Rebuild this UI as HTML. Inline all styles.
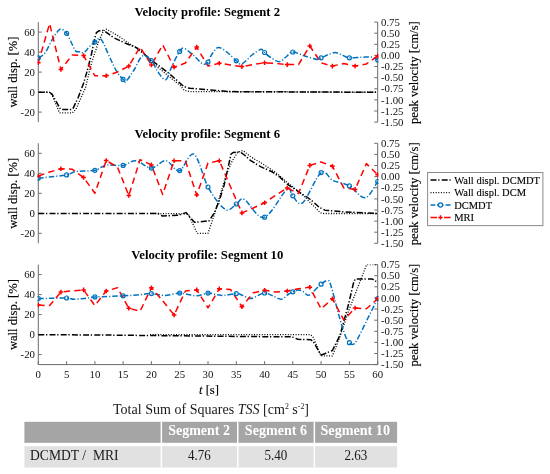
<!DOCTYPE html><html><head><meta charset="utf-8"><style>
html,body{margin:0;padding:0;background:#fff;}
body{width:550px;height:474px;overflow:hidden;position:relative;font-family:"Liberation Serif","Times New Roman",serif;}
svg{position:absolute;left:0;top:0;}
.tk{font-size:10.8px;fill:#111;}
.lab{font-size:12.6px;fill:#000;stroke:#000;stroke-width:0.15px;}
.ttl{font-size:12.7px;font-weight:bold;fill:#000;}
.lg{font-size:10.5px;fill:#000;stroke:#000;stroke-width:0.12px;}
</style></head><body>
<svg width="550" height="474" viewBox="0 0 550 474">
<text class="ttl" x="207.3" y="16.0" text-anchor="middle">Velocity profile: Segment 2</text>
<defs><clipPath id="c0"><rect x="37.5" y="22.1" width="341.0" height="100.5"/></clipPath></defs>
<g stroke="#6b6b6b" stroke-width="1" fill="none">
<path d="M38.3,22.1 V122.1"/>
<path d="M377.7,22.1 V122.1"/>
<path d="M38.3,32.099999999999994 h3.4"/>
<path d="M38.3,52.099999999999994 h3.4"/>
<path d="M38.3,72.1 h3.4"/>
<path d="M38.3,92.1 h3.4"/>
<path d="M38.3,112.1 h3.4"/>
<path d="M377.7,22.1 h-3.4"/>
<path d="M377.7,33.2 h-3.4"/>
<path d="M377.7,44.3 h-3.4"/>
<path d="M377.7,55.4 h-3.4"/>
<path d="M377.7,66.5 h-3.4"/>
<path d="M377.7,77.7 h-3.4"/>
<path d="M377.7,88.8 h-3.4"/>
<path d="M377.7,99.9 h-3.4"/>
<path d="M377.7,111 h-3.4"/>
<path d="M377.7,122.1 h-3.4"/>
</g>
<g clip-path="url(#c0)" fill="none" stroke-width="1.5" stroke-linejoin="round">
<path d="M44,92.2 L49.4,92.2 L52,95 L59.5,112.8 L72.5,112.8 L76,109 L85.5,87.7 L91.5,63 L98.5,42 L102.5,33 L104.5,30 L106.4,29.2 L118.2,35.9 L130,44.1 L140,49.5 L153.7,64 L168.5,76 L180.1,85.5 L184.3,90.4 L190,91.6 L377.7,92.2" stroke="#000" stroke-dasharray="1 1.6" stroke-width="1.3"/>
<path d="M38.3,92.2 L49.4,92.2 L52,94 L60.6,109.5 L71,109.6 L72.6,109.3 L78.3,97.2 L84,82 L87.8,68.7 L91.6,53.5 L94.5,39.3 L96.4,32.6 L99.2,30.7 L103,30.5 L105,31.4 L113.6,37.7 L125.5,43.2 L136.4,47.7 L140,50.8 L153.7,61.9 L168.5,73 L182.2,85.1 L186.4,87.7 L190,88.2 L230,91.6 L377.7,92.3" stroke="#000" stroke-dasharray="6 1.7 1.3 2.2"/>
<path d="M38.3,57.8 C39.4,57 42.7,56 45,53 C47.3,50 49.8,43.7 52,40 C54.2,36.3 56.4,32.8 58,31 C59.6,29.2 60.2,28.8 61.7,29.2 C63.2,29.6 65.2,31.2 66.9,33.7 C68.6,36.2 70.5,41.1 72,44 C73.5,46.9 74.5,49.8 75.7,51.1 C77,52.4 78.2,51.5 79.5,51.8 C80.8,52.1 82.1,53 83.3,52.7 C84.5,52.4 85.5,51.2 86.5,50.2 C87.5,49.2 87.7,48.3 89,47 C90.3,45.7 92.2,43.9 94.2,42.6 C96.2,41.3 98.4,36.7 101,39.3 C103.6,41.9 107.3,52.5 110,58 C112.7,63.5 114.8,68.4 117,72 C119.2,75.6 121.9,78 123.3,79.6 C124.7,81.2 123.8,83.4 125.6,81.8 C127.4,80.2 131.2,74.3 134,70 C136.8,65.7 139.5,57.6 142.4,56 C145.3,54.4 148.7,57.8 151.3,60.5 C153.9,63.2 155.6,68.8 158,72 C160.4,75.2 163.6,80.6 165.9,79.6 C168.2,78.6 169.8,70.6 172,66 C174.2,61.4 177.3,55 179.3,52 C181.3,49 181.5,47.7 183.8,48.2 C186.1,48.7 189.8,52.4 193,55 C196.2,57.6 200.3,62.7 202.8,63.9 C205.3,65.1 206.3,63.9 207.8,62.3 C209.3,60.6 210.2,56.5 212,54 C213.8,51.5 215.9,47.7 218.6,47.5 C221.3,47.3 225,50.8 228,53 C231,55.2 234.2,59.2 236.5,61 C238.8,62.8 239.4,64.9 242,63.9 C244.6,62.9 248.8,57.4 252,55 C255.2,52.6 259,49.8 261,49.3 C263,48.8 262.5,50.7 264,52 C265.5,53.3 267.5,55.4 270,57 C272.5,58.6 276.3,61.7 279,61.7 C281.7,61.7 283.8,58.6 286,57 C288.2,55.4 289.2,52.2 292.4,52 C295.6,51.8 300.9,54.8 305,56 C309.1,57.2 314.4,59.1 317.1,59.4 C319.8,59.7 318.3,58.9 321.1,57.8 C323.9,56.7 330.4,53.2 333.9,52.7 C337.4,52.2 339.5,54.1 342,55 C344.5,55.9 345.6,57.4 348.9,57.8 C352.2,58.2 358,57.3 361.9,57.2 C365.8,57.1 369.4,56.7 372,57.2 C374.6,57.7 376.8,59.5 377.7,60" stroke="#0072BD" stroke-dasharray="5.5 2 1.1 2"/>
<path d="M38.3,62.8 L49.6,23.6 L60.9,69.5 L72.2,55 L83.6,55.6 L94.9,75.8 L106.2,75.8 L117.5,72 L128.8,66.1 L140.1,47.1 L151.4,65 L162.7,44.9 L174.1,67.2 L185.4,63 L196.7,47.1 L208,66.1 L219.3,63.2 L230.6,65 L241.9,66.6 L253.3,64.5 L264.6,62.8 L275.9,63.5 L287.2,64.6 L298.5,64.6 L309.8,46 L321.1,62.8 L332.4,66.1 L343.8,63.5 L355.1,66.1 L366.4,63.9 L377.7,56.1" stroke="#FF0000" stroke-dasharray="6.4 4.2"/>
</g>
<g clip-path="url(#c0)">
<g fill="none" stroke="#0072BD" stroke-width="1.2">
<circle cx="38.3" cy="57.8" r="2"/>
<circle cx="66.6" cy="33.3" r="2"/>
<circle cx="94.9" cy="42.1" r="2"/>
<circle cx="123.1" cy="79.4" r="2"/>
<circle cx="151.4" cy="60.6" r="2"/>
<circle cx="179.7" cy="51.4" r="2"/>
<circle cx="208" cy="62.1" r="2"/>
<circle cx="236.3" cy="60.8" r="2"/>
<circle cx="264.6" cy="52.5" r="2"/>
<circle cx="292.8" cy="52" r="2"/>
<circle cx="321.1" cy="57.8" r="2"/>
<circle cx="349.4" cy="57.8" r="2"/>
<circle cx="377.7" cy="60" r="2"/>
</g>
<g stroke="#FF0000" stroke-width="1.5">
<path d="M36,62.8 H40.6 M38.3,60.5 V65.1"/>
<path d="M58.6,69.5 H63.2 M60.9,67.2 V71.8"/>
<path d="M81.3,55.6 H85.9 M83.6,53.3 V57.9"/>
<path d="M103.9,75.8 H108.5 M106.2,73.5 V78.1"/>
<path d="M126.5,66.1 H131.1 M128.8,63.8 V68.4"/>
<path d="M149.1,65 H153.7 M151.4,62.7 V67.3"/>
<path d="M171.8,67.2 H176.4 M174.1,64.9 V69.5"/>
<path d="M194.4,47.1 H199 M196.7,44.8 V49.4"/>
<path d="M217,63.2 H221.6 M219.3,60.9 V65.5"/>
<path d="M239.6,66.6 H244.2 M241.9,64.3 V68.9"/>
<path d="M262.3,62.8 H266.9 M264.6,60.5 V65.1"/>
<path d="M284.9,64.6 H289.5 M287.2,62.3 V66.9"/>
<path d="M307.5,46 H312.1 M309.8,43.7 V48.3"/>
<path d="M330.1,66.1 H334.7 M332.4,63.8 V68.4"/>
<path d="M352.8,66.1 H357.4 M355.1,63.8 V68.4"/>
<path d="M375.4,56.1 H380 M377.7,53.8 V58.4"/>
</g></g>
<text class="tk" x="35" y="35.7" text-anchor="end">60</text>
<text class="tk" x="35" y="55.7" text-anchor="end">40</text>
<text class="tk" x="35" y="75.7" text-anchor="end">20</text>
<text class="tk" x="35" y="95.7" text-anchor="end">0</text>
<text class="tk" x="35" y="115.7" text-anchor="end">-20</text>
<text class="tk" x="381" y="25.7">0.75</text>
<text class="tk" x="381" y="36.8">0.50</text>
<text class="tk" x="381" y="47.9">0.25</text>
<text class="tk" x="381" y="59">0.00</text>
<text class="tk" x="381" y="70.1">-0.25</text>
<text class="tk" x="381" y="81.3">-0.50</text>
<text class="tk" x="381" y="92.4">-0.75</text>
<text class="tk" x="381" y="103.5">-1.00</text>
<text class="tk" x="381" y="114.6">-1.25</text>
<text class="tk" x="381" y="125.7">-1.50</text>
<text class="lab" transform="translate(17,72.1) rotate(-90)" text-anchor="middle">wall disp. [%]</text>
<text class="lab" transform="translate(417.5,72.6) rotate(-90)" text-anchor="middle">peak velocity [cm/s]</text>
<text class="ttl" x="207.3" y="137.7" text-anchor="middle">Velocity profile: Segment 6</text>
<defs><clipPath id="c1"><rect x="37.5" y="143.3" width="341.0" height="100.5"/></clipPath></defs>
<g stroke="#6b6b6b" stroke-width="1" fill="none">
<path d="M38.3,143.3 V243.3"/>
<path d="M377.7,143.3 V243.3"/>
<path d="M38.3,153.3 h3.4"/>
<path d="M38.3,173.3 h3.4"/>
<path d="M38.3,193.3 h3.4"/>
<path d="M38.3,213.3 h3.4"/>
<path d="M38.3,233.3 h3.4"/>
<path d="M377.7,143.3 h-3.4"/>
<path d="M377.7,154.4 h-3.4"/>
<path d="M377.7,165.5 h-3.4"/>
<path d="M377.7,176.6 h-3.4"/>
<path d="M377.7,187.7 h-3.4"/>
<path d="M377.7,198.9 h-3.4"/>
<path d="M377.7,210 h-3.4"/>
<path d="M377.7,221.1 h-3.4"/>
<path d="M377.7,232.2 h-3.4"/>
<path d="M377.7,243.3 h-3.4"/>
</g>
<g clip-path="url(#c1)" fill="none" stroke-width="1.5" stroke-linejoin="round">
<path d="M150,213.4 L188.2,213.9 L197.2,233.4 L208,233.4 L214.1,215.3 L220.1,195.2 L226.1,175.1 L232.1,161.1 L237.1,153 L241.2,151 L243,150.6 L250.3,156.5 L263,164.1 L275.7,172.4 L285.9,181.3 L296.1,189.5 L305,197.2 L310.4,202.8 L320.5,212.9 L323.8,213.5 L377.7,213.5" stroke="#000" stroke-dasharray="1 1.6" stroke-width="1.3"/>
<path d="M38.3,213.4 L158,213.6 L162.5,216 L178.2,215.3 L186,212.6 L194.5,222.3 L209,220.9 L214.1,213.3 L219.1,201.2 L224.1,185.2 L228.1,167.1 L231.1,154 L233.1,152.6 L238.2,152 L241,152.5 L245,155.5 L250.3,160.3 L260.5,166.6 L271.9,171.7 L279.5,176.8 L285.9,183.2 L293.5,188.3 L305,195.9 L310.4,199.5 L319.3,207.3 L324.9,210.2 L344,211.8 L377.7,213.5" stroke="#000" stroke-dasharray="6 1.7 1.3 2.2"/>
<path d="M38.3,178.2 C40.1,178 44.6,177.6 49.4,177 C54.2,176.4 62.4,175.7 66.9,174.8 C71.4,173.9 71.7,172.2 76.3,171.5 C80.9,170.8 89.7,171.4 94.7,170.3 C99.7,169.2 101.7,166 106.5,165.2 C111.3,164.4 118.4,166.2 123.3,165.4 C128.2,164.7 131,160.2 135.7,160.7 C140.4,161.1 146.3,168.1 151.3,168.1 C156.3,168.1 161.2,160.2 165.9,160.7 C170.6,161.1 174.6,171.9 179.3,170.8 C184,169.7 189.1,151.4 193.9,154.2 C198.8,157 203.2,178.6 208.4,187.8 C213.6,197 220.6,206.8 225.3,209.5 C230,212.2 233.3,205.6 236.5,203.9 C239.7,202.2 239.7,197.2 244.3,199.4 C248.9,201.7 256.9,219.1 264,217.4 C271.1,215.7 282.1,193.1 286.8,189.4 C291.5,185.7 289.8,193.2 292.4,195.4 C295,197.6 297.8,206.6 302.6,202.8 C307.4,199 316.1,176.3 321.1,172.6 C326.1,168.9 328.2,178.2 332.8,180.4 C337.4,182.6 343.5,182.7 348.9,185.6 C354.3,188.5 360.4,198.4 365.2,197.7 C370,197 375.6,184.2 377.7,181.5" stroke="#0072BD" stroke-dasharray="5.5 2 1.1 2"/>
<path d="M38.3,176 L49.6,172 L60.9,168.8 L72.2,169.2 L83.6,177.5 L94.9,193.2 L106.2,160.5 L117.5,167.2 L128.8,195.5 L140.1,159.6 L151.4,164.9 L162.7,194.5 L174.1,160.7 L185.4,160.7 L196.7,195 L208,163 L219.3,160.7 L230.6,187 L241.9,212.9 L253.3,208 L264.6,202.8 L275.9,195 L287.2,188 L298.5,193.5 L309.8,165.4 L321.1,162 L332.4,166.3 L343.8,187.8 L355.1,189.4 L366.4,163.6 L377.7,174.8" stroke="#FF0000" stroke-dasharray="6.4 4.2"/>
</g>
<g clip-path="url(#c1)">
<g fill="none" stroke="#0072BD" stroke-width="1.2">
<circle cx="38.3" cy="178.2" r="2"/>
<circle cx="66.6" cy="174.9" r="2"/>
<circle cx="94.9" cy="170.3" r="2"/>
<circle cx="123.1" cy="165.4" r="2"/>
<circle cx="151.4" cy="168.1" r="2"/>
<circle cx="179.7" cy="170.6" r="2"/>
<circle cx="208" cy="187" r="2"/>
<circle cx="236.3" cy="204" r="2"/>
<circle cx="264.6" cy="217.2" r="2"/>
<circle cx="292.8" cy="195.8" r="2"/>
<circle cx="321.1" cy="172.6" r="2"/>
<circle cx="349.4" cy="185.9" r="2"/>
<circle cx="377.7" cy="181.5" r="2"/>
</g>
<g stroke="#FF0000" stroke-width="1.5">
<path d="M36,176 H40.6 M38.3,173.7 V178.3"/>
<path d="M58.6,168.8 H63.2 M60.9,166.5 V171.1"/>
<path d="M81.3,177.5 H85.9 M83.6,175.2 V179.8"/>
<path d="M103.9,160.5 H108.5 M106.2,158.2 V162.8"/>
<path d="M126.5,195.5 H131.1 M128.8,193.2 V197.8"/>
<path d="M149.1,164.9 H153.7 M151.4,162.6 V167.2"/>
<path d="M171.8,160.7 H176.4 M174.1,158.4 V163"/>
<path d="M194.4,195 H199 M196.7,192.7 V197.3"/>
<path d="M217,160.7 H221.6 M219.3,158.4 V163"/>
<path d="M239.6,212.9 H244.2 M241.9,210.6 V215.2"/>
<path d="M262.3,202.8 H266.9 M264.6,200.5 V205.1"/>
<path d="M284.9,188 H289.5 M287.2,185.7 V190.3"/>
<path d="M307.5,165.4 H312.1 M309.8,163.1 V167.7"/>
<path d="M330.1,166.3 H334.7 M332.4,164 V168.6"/>
<path d="M352.8,189.4 H357.4 M355.1,187.1 V191.7"/>
<path d="M375.4,174.8 H380 M377.7,172.5 V177.1"/>
</g></g>
<text class="tk" x="35" y="156.9" text-anchor="end">60</text>
<text class="tk" x="35" y="176.9" text-anchor="end">40</text>
<text class="tk" x="35" y="196.9" text-anchor="end">20</text>
<text class="tk" x="35" y="216.9" text-anchor="end">0</text>
<text class="tk" x="35" y="236.9" text-anchor="end">-20</text>
<text class="tk" x="381" y="146.9">0.75</text>
<text class="tk" x="381" y="158">0.50</text>
<text class="tk" x="381" y="169.1">0.25</text>
<text class="tk" x="381" y="180.2">0.00</text>
<text class="tk" x="381" y="191.3">-0.25</text>
<text class="tk" x="381" y="202.5">-0.50</text>
<text class="tk" x="381" y="213.6">-0.75</text>
<text class="tk" x="381" y="224.7">-1.00</text>
<text class="tk" x="381" y="235.8">-1.25</text>
<text class="tk" x="381" y="246.9">-1.50</text>
<text class="lab" transform="translate(17,193.3) rotate(-90)" text-anchor="middle">wall disp. [%]</text>
<text class="lab" transform="translate(417.5,193.8) rotate(-90)" text-anchor="middle">peak velocity [cm/s]</text>
<text class="ttl" x="207.3" y="258.5" text-anchor="middle">Velocity profile: Segment 10</text>
<defs><clipPath id="c2"><rect x="37.5" y="264.6" width="341.0" height="100.5"/></clipPath></defs>
<g stroke="#6b6b6b" stroke-width="1" fill="none">
<path d="M38.3,264.6 V364.6"/>
<path d="M377.7,264.6 V364.6"/>
<path d="M38.3,274.6 h3.4"/>
<path d="M38.3,294.6 h3.4"/>
<path d="M38.3,314.6 h3.4"/>
<path d="M38.3,334.6 h3.4"/>
<path d="M38.3,354.6 h3.4"/>
<path d="M377.7,264.6 h-3.4"/>
<path d="M377.7,275.7 h-3.4"/>
<path d="M377.7,286.8 h-3.4"/>
<path d="M377.7,297.9 h-3.4"/>
<path d="M377.7,309 h-3.4"/>
<path d="M377.7,320.2 h-3.4"/>
<path d="M377.7,331.3 h-3.4"/>
<path d="M377.7,342.4 h-3.4"/>
<path d="M377.7,353.5 h-3.4"/>
<path d="M377.7,364.6 h-3.4"/>
<path d="M38.3,364.6 H377.7"/>
<path d="M38.3,364.6 v-3.4"/>
<path d="M66.6,364.6 v-3.4"/>
<path d="M94.9,364.6 v-3.4"/>
<path d="M123.1,364.6 v-3.4"/>
<path d="M151.4,364.6 v-3.4"/>
<path d="M179.7,364.6 v-3.4"/>
<path d="M208,364.6 v-3.4"/>
<path d="M236.3,364.6 v-3.4"/>
<path d="M264.6,364.6 v-3.4"/>
<path d="M292.8,364.6 v-3.4"/>
<path d="M321.1,364.6 v-3.4"/>
<path d="M349.4,364.6 v-3.4"/>
<path d="M377.7,364.6 v-3.4"/>
</g>
<g clip-path="url(#c2)" fill="none" stroke-width="1.5" stroke-linejoin="round">
<path d="M150,334.6 L310.7,334.6 L313,337 L320.9,355.6 L323.5,355.9 L332.4,355.9 L340,336.5 L348.4,311.5 L366.6,264.6 L377.7,264.6" stroke="#000" stroke-dasharray="1 1.6" stroke-width="1.3"/>
<path d="M38.3,334.8 L90,334.9 L255,336.6 L291.6,336.8 L298,339.3 L310.7,339.7 L313.3,341.6 L320.9,355 L324.7,353.7 L332.4,350.5 L340,335.3 L348.4,304.8 L353.5,283 L355.2,279 L371.9,278.9 L377.7,282.3" stroke="#000" stroke-dasharray="6 1.7 1.3 2.2"/>
<path d="M38.3,298.5 C40.6,298.5 47.2,298.4 52,298.3 C56.8,298.2 63.2,297.9 66.9,298 C70.6,298.1 71.2,299.1 74,299.2 C76.8,299.3 80.5,298.9 84,298.5 C87.5,298.1 90.5,297.2 94.7,296.9 C98.9,296.6 104.2,296.7 109,296.5 C113.8,296.3 118.6,296.1 123.3,295.8 C128,295.6 132.3,295.4 137,295 C141.7,294.6 146.7,293.5 151.3,293.6 C155.9,293.7 160.1,295.5 164.8,295.4 C169.5,295.3 175.4,293.2 179.3,293.1 C183.2,293 185,294.1 188,294.5 C191,294.9 193.9,296 197.2,295.8 C200.5,295.6 204.7,293.3 207.8,293.1 C210.9,292.9 213.3,294.1 216,294.5 C218.7,294.9 220.7,295.5 224.1,295.4 C227.5,295.2 233.3,293.6 236.5,293.6 C239.7,293.6 240.6,294.7 243,295.5 C245.4,296.3 247.5,298.9 251,298.5 C254.5,298.1 260.5,293.6 264,293.1 C267.5,292.6 269.1,294.5 272,295.5 C274.9,296.5 278.5,299.4 281.2,299.2 C283.9,299 286.1,295.7 288,294.5 C289.9,293.3 290.7,292.8 292.4,292 C294.1,291.2 296.2,290.1 298,290 C299.8,289.9 301.4,290.6 303,291.5 C304.6,292.4 306.2,294.9 307.7,295.2 C309.2,295.4 309.9,294.8 312,293 C314.1,291.2 317.9,286.8 320.5,284.7 C323.1,282.6 325.8,280.3 327.5,280.5 C329.2,280.7 329.1,280.1 331,286 C332.9,291.9 336.8,307.9 339.1,316.1 C341.4,324.3 343.4,330.7 345,335 C346.6,339.3 347.6,340.5 348.9,342.1 C350.2,343.7 351.6,344.8 353,344.4 C354.4,344 354.7,344.1 357,340 C359.3,335.9 363.6,326.9 367,320 C370.4,313.1 375.9,302.1 377.7,298.5" stroke="#0072BD" stroke-dasharray="5.5 2 1.1 2"/>
<path d="M38.3,305.1 L49.6,305.6 L60.9,292.1 L72.2,290.8 L83.6,289.9 L94.9,305.6 L106.2,291 L117.5,287.7 L128.8,308.3 L140.1,311.2 L151.4,287.7 L162.7,300.8 L174.1,315 L185.4,291 L196.7,289.9 L208,307.8 L219.3,288.8 L230.6,289.5 L241.9,306.7 L253.3,292.8 L264.6,290.3 L275.9,292.1 L287.2,291 L298.5,288.8 L309.8,287.2 L321.1,308.9 L332.4,298.8 L343.8,320.1 L355.1,308 L366.4,308.8 L377.7,298.8" stroke="#FF0000" stroke-dasharray="6.4 4.2"/>
</g>
<g clip-path="url(#c2)">
<g fill="none" stroke="#0072BD" stroke-width="1.2">
<circle cx="38.3" cy="298.5" r="2"/>
<circle cx="66.6" cy="298" r="2"/>
<circle cx="94.9" cy="296.9" r="2"/>
<circle cx="123.1" cy="295.8" r="2"/>
<circle cx="151.4" cy="293.6" r="2"/>
<circle cx="179.7" cy="293.1" r="2"/>
<circle cx="208" cy="293.1" r="2"/>
<circle cx="236.3" cy="293.6" r="2"/>
<circle cx="264.6" cy="293" r="2"/>
<circle cx="292.8" cy="291.8" r="2"/>
<circle cx="321.1" cy="284.2" r="2"/>
<circle cx="349.4" cy="342.7" r="2"/>
<circle cx="377.7" cy="298.5" r="2"/>
</g>
<g stroke="#FF0000" stroke-width="1.5">
<path d="M36,305.1 H40.6 M38.3,302.8 V307.4"/>
<path d="M58.6,292.1 H63.2 M60.9,289.8 V294.4"/>
<path d="M81.3,289.9 H85.9 M83.6,287.6 V292.2"/>
<path d="M103.9,291 H108.5 M106.2,288.7 V293.3"/>
<path d="M126.5,308.3 H131.1 M128.8,306 V310.6"/>
<path d="M149.1,287.7 H153.7 M151.4,285.4 V290"/>
<path d="M171.8,315 H176.4 M174.1,312.7 V317.3"/>
<path d="M194.4,289.9 H199 M196.7,287.6 V292.2"/>
<path d="M217,288.8 H221.6 M219.3,286.5 V291.1"/>
<path d="M239.6,306.7 H244.2 M241.9,304.4 V309"/>
<path d="M262.3,290.3 H266.9 M264.6,288 V292.6"/>
<path d="M284.9,291 H289.5 M287.2,288.7 V293.3"/>
<path d="M307.5,287.2 H312.1 M309.8,284.9 V289.5"/>
<path d="M330.1,298.8 H334.7 M332.4,296.5 V301.1"/>
<path d="M352.8,308 H357.4 M355.1,305.7 V310.3"/>
<path d="M375.4,298.8 H380 M377.7,296.5 V301.1"/>
</g></g>
<text class="tk" x="35" y="278.2" text-anchor="end">60</text>
<text class="tk" x="35" y="298.2" text-anchor="end">40</text>
<text class="tk" x="35" y="318.2" text-anchor="end">20</text>
<text class="tk" x="35" y="338.2" text-anchor="end">0</text>
<text class="tk" x="35" y="358.2" text-anchor="end">-20</text>
<text class="tk" x="381" y="268.2">0.75</text>
<text class="tk" x="381" y="279.3">0.50</text>
<text class="tk" x="381" y="290.4">0.25</text>
<text class="tk" x="381" y="301.5">0.00</text>
<text class="tk" x="381" y="312.6">-0.25</text>
<text class="tk" x="381" y="323.8">-0.50</text>
<text class="tk" x="381" y="334.9">-0.75</text>
<text class="tk" x="381" y="346">-1.00</text>
<text class="tk" x="381" y="357.1">-1.25</text>
<text class="tk" x="381" y="368.2">-1.50</text>
<text class="lab" transform="translate(17,314.6) rotate(-90)" text-anchor="middle">wall disp. [%]</text>
<text class="lab" transform="translate(417.5,315.1) rotate(-90)" text-anchor="middle">peak velocity [cm/s]</text>
<text class="tk" x="38.3" y="378.2" text-anchor="middle">0</text>
<text class="tk" x="66.6" y="378.2" text-anchor="middle">5</text>
<text class="tk" x="94.9" y="378.2" text-anchor="middle">10</text>
<text class="tk" x="123.1" y="378.2" text-anchor="middle">15</text>
<text class="tk" x="151.4" y="378.2" text-anchor="middle">20</text>
<text class="tk" x="179.7" y="378.2" text-anchor="middle">25</text>
<text class="tk" x="208" y="378.2" text-anchor="middle">30</text>
<text class="tk" x="236.3" y="378.2" text-anchor="middle">35</text>
<text class="tk" x="264.6" y="378.2" text-anchor="middle">40</text>
<text class="tk" x="292.8" y="378.2" text-anchor="middle">45</text>
<text class="tk" x="321.1" y="378.2" text-anchor="middle">50</text>
<text class="tk" x="349.4" y="378.2" text-anchor="middle">55</text>
<text class="tk" x="377.7" y="378.2" text-anchor="middle">60</text>
<text class="lab" x="209" y="393.8" text-anchor="middle"><tspan font-style="italic">t</tspan> [s]</text>
<rect x="427.6" y="172.5" width="115.3" height="53.1" fill="#fff" stroke="#8a8a8a" stroke-width="1"/>
<path d="M430.5,180.1 H450.6" stroke="#000" stroke-width="1.5" stroke-dasharray="6 1.7 1.3 2.2"/>
<path d="M430.5,192.6 H450.6" stroke="#000" stroke-width="1.3" stroke-dasharray="1 1.6"/>
<path d="M430.5,205 H435.3 M437,205 h1 M442.5,205 h1 M445.5,205 H450.6" stroke="#0072BD" stroke-width="1.5" fill="none"/>
<circle cx="440.5" cy="205" r="2.1" fill="none" stroke="#0072BD" stroke-width="1.2"/>
<path d="M430.5,217.4 H437 M444,217.4 H450.6" stroke="#FF0000" stroke-width="1.5" fill="none"/>
<path d="M438.3,217.4 h4.4 M440.5,215.20000000000002 v4.4" stroke="#FF0000" stroke-width="1.5"/>
<text class="lg" x="454.2" y="183.6">Wall displ. DCMDT</text>
<text class="lg" x="454.2" y="196.1">Wall displ. DCM</text>
<text class="lg" x="454.2" y="208.5">DCMDT</text>
<text class="lg" x="454.2" y="220.9">MRI</text>
<text x="113" y="413.5" textLength="196" lengthAdjust="spacingAndGlyphs" style="font-size:14.4px;fill:#1a1a1a">Total Sum of Squares <tspan font-style="italic">TSS</tspan> [cm<tspan font-size="8" dy="-4.8">2</tspan><tspan dy="4.8"> s</tspan><tspan font-size="8" dy="-4.8">-2</tspan><tspan dy="4.8">]</tspan></text>
<rect x="24.4" y="421.8" width="372.7" height="21" fill="#a5a5a5"/>
<rect x="24.4" y="446.2" width="372.7" height="21.3" fill="#e1e1e1"/>
<rect x="160.6" y="421.8" width="1.5" height="45.5" fill="#fff"/>
<rect x="237.0" y="421.8" width="1.5" height="45.5" fill="#fff"/>
<rect x="313.6" y="421.8" width="1.5" height="45.5" fill="#fff"/>
<text x="168.2" y="434.9" textLength="61.8" lengthAdjust="spacingAndGlyphs" style="font-size:13.6px;font-weight:bold;fill:#fff">Segment 2</text>
<text x="244.8" y="434.9" textLength="62.2" lengthAdjust="spacingAndGlyphs" style="font-size:13.6px;font-weight:bold;fill:#fff">Segment 6</text>
<text x="320.5" y="434.9" textLength="69.5" lengthAdjust="spacingAndGlyphs" style="font-size:13.6px;font-weight:bold;fill:#fff">Segment 10</text>
<text x="30" y="459.6" textLength="88.6" lengthAdjust="spacingAndGlyphs" style="font-size:14px;fill:#1a1a1a" xml:space="preserve">DCMDT /  MRI</text>
<text x="188" y="459.6" textLength="22.6" lengthAdjust="spacingAndGlyphs" style="font-size:14px;fill:#1a1a1a">4.76</text>
<text x="264.4" y="459.6" textLength="22.9" lengthAdjust="spacingAndGlyphs" style="font-size:14px;fill:#1a1a1a">5.40</text>
<text x="344.4" y="459.6" textLength="22.9" lengthAdjust="spacingAndGlyphs" style="font-size:14px;fill:#1a1a1a">2.63</text>
</svg></body></html>
